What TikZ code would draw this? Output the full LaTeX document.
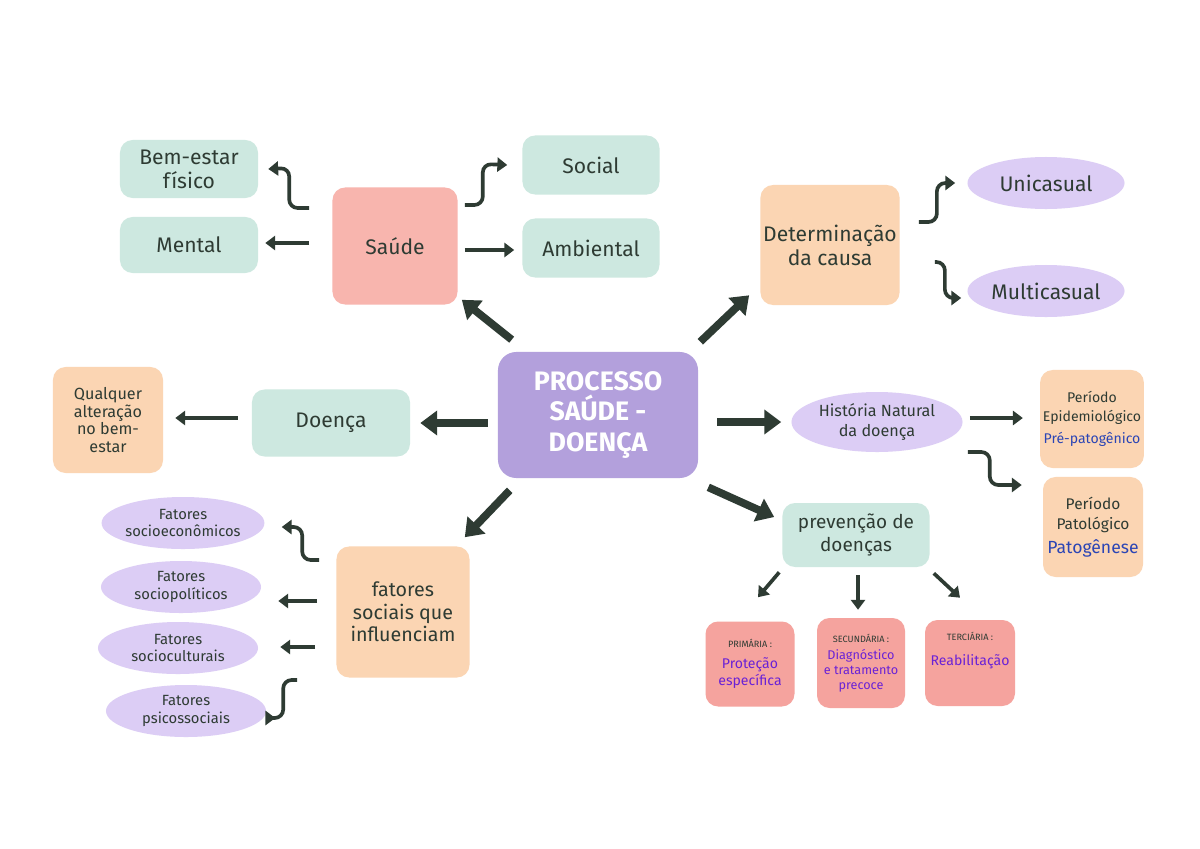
\documentclass[tikz,border=0pt]{standalone}
\usepackage{fontspec}
\setmainfont{Fira Sans}
\usetikzlibrary{arrows.meta,calc,shapes.geometric}
\definecolor{gr}{HTML}{CDE8E0}
\definecolor{pk}{HTML}{F8B5AE}
\definecolor{pe}{HTML}{FBD5B3}
\definecolor{pu}{HTML}{B3A0DC}
\definecolor{lv}{HTML}{DCCDF5}
\definecolor{rd}{HTML}{F5A39E}
\definecolor{ar}{HTML}{2E3B33}
\definecolor{bl}{HTML}{2B45B5}
\definecolor{vi}{HTML}{6A22D6}
\begin{document}
\begin{tikzpicture}[x=0.025cm,y=-0.025cm,
 box/.style={rounded corners=9pt,align=center,text=ar,inner sep=2pt,font=\fontsize{15}{17}\selectfont},
 ell/.style={ellipse,align=center,text=ar,inner sep=0pt,fill=lv,font=\fontsize{15}{17}\selectfont},
 big/.style={line width=5.5pt,ar,-{Triangle[length=12pt,width=17pt]}},
 sm/.style={line width=2.6pt,ar,-{Triangle[length=7pt,width=10pt]},rounded corners=6pt},
 small/.style={font=\fontsize{11}{13}\selectfont}]
\useasboundingbox (0,0) rectangle (1200,848);
\fill[white] (0,0) rectangle (1200,848);
% nodes
\node[box,fill=gr,minimum width=138*0.7113pt,minimum height=58*0.7113pt] (bem) at (189,169) {Bem-estar\\físico};
\node[box,fill=gr,minimum width=138*0.7113pt,minimum height=56*0.7113pt] (men) at (189,245) {Mental};
\node[box,fill=pk,minimum width=125*0.7113pt,minimum height=117*0.7113pt] (sau) at (395,246) {Saúde};
\node[box,fill=gr,minimum width=137*0.7113pt,minimum height=59*0.7113pt] (soc) at (591,165) {Social};
\node[box,fill=gr,minimum width=137*0.7113pt,minimum height=59*0.7113pt] (amb) at (591,248) {Ambiental};
\node[box,fill=pe,minimum width=125*0.7113pt,minimum height=120*0.7113pt] (det) at (830,245) {Determinação\\da causa};
\node[ell,minimum width=157*0.7113pt,minimum height=52*0.7113pt] (uni) at (1046,183) {Unicasual};
\node[ell,minimum width=157*0.7113pt,minimum height=52*0.7113pt] (mul) at (1046,291) {Multicasual};
\node[box,fill=pu,text=white,rounded corners=13pt,minimum width=200*0.7113pt,minimum height=126*0.7113pt,font=\fontsize{19}{22}\selectfont\bfseries] (cen) at (598,415) {PROCESSO\\SAÚDE -\\DOENÇA};
\node[box,fill=gr,minimum width=158*0.7113pt,minimum height=67*0.7113pt] (doe) at (331,423) {Doença};
\node[box,fill=pe,minimum width=110*0.7113pt,minimum height=106*0.7113pt,font=\fontsize{11.5}{12.5}\selectfont] (qua) at (108,420) {Qualquer\\alteração\\no bem-\\estar};
\node[ell,minimum width=171*0.7113pt,minimum height=60*0.7113pt,font=\fontsize{11.5}{14}\selectfont] (his) at (877,422) {História Natural\\da doença};
\node[box,fill=pe,minimum width=101*0.7113pt,minimum height=98*0.7113pt,font=\fontsize{10}{13}\selectfont] (pe1) at (1092,419) {Período\\Epidemiológico\\[3pt]\textcolor{bl}{Pré-patogênico}};
\node[box,fill=pe,minimum width=100*0.7113pt,minimum height=100*0.7113pt,font=\fontsize{11}{14}\selectfont] (pe2) at (1093,527) {Período\\Patológico\\[3pt]\textcolor{bl}{\fontsize{12.5}{14}\selectfont Patogênese}};
\node[box,fill=gr,minimum width=147*0.7113pt,minimum height=64*0.7113pt,font=\fontsize{13.5}{16}\selectfont] (pre) at (856,535) {prevenção de\\doenças};
\node[box,fill=rd,minimum width=89*0.7113pt,minimum height=85*0.7113pt,font=\fontsize{10}{12}\selectfont] (pri) at (750,664) {{\fontsize{6.5}{8}\selectfont PRIMÁRIA :}\\[3pt]\textcolor{vi}{Proteção}\\\textcolor{vi}{específica}};
\node[box,fill=rd,minimum width=88*0.7113pt,minimum height=90*0.7113pt,font=\fontsize{9}{10.5}\selectfont] (sec) at (861,663) {{\fontsize{6.5}{8}\selectfont SECUNDÁRIA :}\\[2pt]\textcolor{vi}{Diagnóstico}\\\textcolor{vi}{e tratamento}\\\textcolor{vi}{precoce}};
\node[box,fill=rd,minimum width=90*0.7113pt,minimum height=86*0.7113pt,font=\fontsize{10}{12}\selectfont] (ter) at (970,663) {{\fontsize{6.5}{8}\selectfont TERCIÁRIA :}\\[6pt]\textcolor{vi}{Reabilitação}\\[8pt]};
\node[box,fill=pe,minimum width=133*0.7113pt,minimum height=131*0.7113pt,font=\fontsize{14}{16}\selectfont] (fat) at (403,612) {fatores\\sociais que\\influenciam};
\node[ell,minimum width=160*0.7113pt,minimum height=52*0.7113pt,font=\fontsize{10.5}{12.5}\selectfont] (f1) at (183,523) {Fatores\\socioeconômicos};
\node[ell,minimum width=160*0.7113pt,minimum height=52*0.7113pt,font=\fontsize{10.5}{12.5}\selectfont] (f2) at (181,587) {Fatores\\sociopolíticos};
\node[ell,minimum width=160*0.7113pt,minimum height=52*0.7113pt,font=\fontsize{10.5}{12.5}\selectfont] (f3) at (178,648) {Fatores\\socioculturais};
\node[ell,minimum width=160*0.7113pt,minimum height=52*0.7113pt,font=\fontsize{10.5}{12.5}\selectfont] (f4) at (186,711) {Fatores\\psicossociais};
% big arrows
\draw[big] ($(cen.north west)+(14,-12)$) -- ($(sau.south east)+(4,-5)$);
\draw[big] ($(cen.north east)+(2,-10)$) -- ($(det.south west)+(-11,-10)$);
\draw[big] ($(cen.west)+(-10,8)$) -- ($(doe.east)+(10,0)$);
\draw[big] ($(cen.east)+(19,7)$) -- ($(his.west)+(-10,0)$);
\draw[big] ($(cen.south east)+(10,9)$) -- ($(pre.west)+(-8,-18)$);
\draw[big] ($(cen.south west)+(12,12)$) -- ($(fat.north east)+(-5,-9)$);
% small arrows
\draw[sm] ($(sau.west)+(-23,-38)$) -- ++(-20,0) -- ++(0,-40) -- ($(bem.east)+(10,0)$);
\draw[sm] ($(sau.west)+(-23,-3)$) -- ($(men.east)+(7,-2)$);
\draw[sm] ($(sau.east)+(7,-41)$) -- ++(18,0) -- ++(0,-41) -- ($(soc.west)+(-15,0)$);
\draw[sm] ($(sau.east)+(7,4)$) -- ($(amb.west)+(-8,2)$);
\draw[sm] ($(det.east)+(19,-23)$) -- ++(18,0) -- ++(0,-39) -- ($(uni.west)+(-12,0)$);
\draw[sm] ($(det.east)+(35,17)$) -- ++(10,0) -- ++(0,36) -- ($(mul.west)+(-6,7)$);
\draw[sm] ($(doe.west)+(-14,-5)$) -- ($(qua.east)+(12,-2)$);
\draw[sm] ($(his.east)+(7,-4)$) -- ($(pe1.west)+(-17,-1)$);
\draw[sm] ($(his.east)+(5,30)$) -- ++(22,0) -- ++(0,33) -- ($(pe2.west)+(-21,-42)$);
\draw[sm] ($(pre.south west)+(-3,5)$) -- ($(pri.north)+(8,-24)$);
\draw[sm] ($(pre.south)+(2,8)$) -- ($(sec.north)+(-3,-8)$);
\draw[sm] ($(pre.south east)+(4,6)$) -- ($(ter.north)+(-10,-22)$);
\draw[sm] ($(fat.west)+(-17,-52)$) -- ++(-17,0) -- ++(0,-33) -- ($(f1.east)+(17,4)$);
\draw[sm] ($(fat.west)+(-19,-11)$) -- ($(f2.east)+(17,14)$);
\draw[sm] ($(fat.west)+(-21,35)$) -- ($(f3.east)+(22,-1)$);
\draw[sm] ($(fat.west)+(-39,68)$) -- ++(-14,0) -- ++(0,38) -- ($(f4.east)+(9,7)$);
\end{tikzpicture}
\end{document}
